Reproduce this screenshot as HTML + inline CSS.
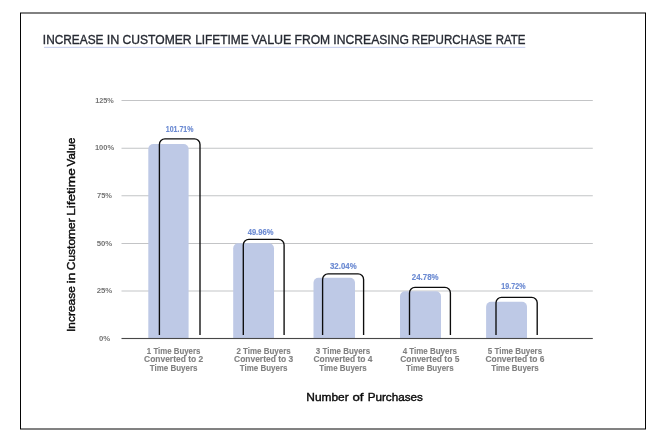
<!DOCTYPE html>
<html lang="en"><head><meta charset="utf-8"><title>Increase in Customer Lifetime Value</title>
<style>
html,body{margin:0;padding:0;background:#fff;}
body{width:666px;height:447px;overflow:hidden;position:relative;font-family:"Liberation Sans",sans-serif;}
svg{position:absolute;left:0;top:0;display:block;}
text{font-family:"Liberation Sans",sans-serif;}
.tick{font-size:7.8px;font-weight:700;fill:#747474;text-anchor:middle;}
.val{font-size:8.3px;font-weight:700;fill:#6b8ad2;stroke:#6b8ad2;stroke-width:0.15px;text-anchor:middle;}
.cat{font-size:8.2px;font-weight:700;fill:#808080;stroke:#808080;stroke-width:0.1px;text-anchor:middle;}
.axl{font-size:11.8px;font-weight:400;fill:#0a0a0a;stroke:#0a0a0a;stroke-width:0.4px;}
.title{font-size:12.3px;fill:#262a33;stroke:#262a33;stroke-width:0.33px;}
</style></head><body>
<svg width="666" height="447" viewBox="0 0 666 447">
<rect x="0" y="0" width="666" height="447" fill="#fff"/>
<rect x="20.5" y="13" width="625" height="416" fill="none" stroke="#050505" stroke-width="1"/>
<text class="title" y="44"><tspan x="42.86" textLength="60.69" lengthAdjust="spacingAndGlyphs">INCREASE</tspan> <tspan x="106.65" textLength="12.59" lengthAdjust="spacingAndGlyphs">IN</tspan> <tspan x="122.59" textLength="69.02" lengthAdjust="spacingAndGlyphs">CUSTOMER</tspan> <tspan x="195.19" textLength="53.52" lengthAdjust="spacingAndGlyphs">LIFETIME</tspan> <tspan x="251.48" textLength="39.9" lengthAdjust="spacingAndGlyphs">VALUE</tspan> <tspan x="294.52" textLength="35.6" lengthAdjust="spacingAndGlyphs">FROM</tspan> <tspan x="333.37" textLength="75.55" lengthAdjust="spacingAndGlyphs">INCREASING</tspan> <tspan x="411.81" textLength="80.25" lengthAdjust="spacingAndGlyphs">REPURCHASE</tspan> <tspan x="495.76" textLength="29.77" lengthAdjust="spacingAndGlyphs">RATE</tspan></text>
<rect x="44" y="46.85" width="481.3" height="0.9" fill="#bcc5ea"/>
<text class="tick" x="104.5" y="340.80" textLength="11.2" lengthAdjust="spacingAndGlyphs">0%</text>
<rect x="121.5" y="290.60" width="471.3" height="0.8" fill="#b4b6b8"/>
<text class="tick" x="104.5" y="293.20" textLength="15.6" lengthAdjust="spacingAndGlyphs">25%</text>
<rect x="121.5" y="243.00" width="471.3" height="0.8" fill="#b4b6b8"/>
<text class="tick" x="104.5" y="245.60" textLength="15.6" lengthAdjust="spacingAndGlyphs">50%</text>
<rect x="121.5" y="195.40" width="471.3" height="0.8" fill="#b4b6b8"/>
<text class="tick" x="104.5" y="198.00" textLength="15.0" lengthAdjust="spacingAndGlyphs">75%</text>
<rect x="121.5" y="147.80" width="471.3" height="0.8" fill="#b4b6b8"/>
<text class="tick" x="104.5" y="150.40" textLength="19.2" lengthAdjust="spacingAndGlyphs">100%</text>
<rect x="121.5" y="100.20" width="471.3" height="0.8" fill="#b4b6b8"/>
<text class="tick" x="104.5" y="102.80" textLength="18.6" lengthAdjust="spacingAndGlyphs">125%</text>
<path d="M148.3 338.5 V149.1 A5 5 0 0 1 153.3 144.1 H183.6 A5 5 0 0 1 188.6 149.1 V338.5 Z" fill="#bec9e6"/>
<path d="M233.2 338.5 V248.2 A5 5 0 0 1 238.2 243.2 H269.0 A5 5 0 0 1 274.0 248.2 V338.5 Z" fill="#bec9e6"/>
<path d="M313.5 338.5 V282.8 A5 5 0 0 1 318.5 277.8 H350.0 A5 5 0 0 1 355.0 282.8 V338.5 Z" fill="#bec9e6"/>
<path d="M400.0 338.5 V296.3 A5 5 0 0 1 405.0 291.3 H436.0 A5 5 0 0 1 441.0 296.3 V338.5 Z" fill="#bec9e6"/>
<path d="M486.1 338.5 V306.7 A5 5 0 0 1 491.1 301.7 H522.0 A5 5 0 0 1 527.0 306.7 V338.5 Z" fill="#bec9e6"/>
<rect x="121.5" y="337.95" width="471.3" height="1.1" fill="#484848"/>
<path d="M159.4 335.1 V144.4 A5.5 5.5 0 0 1 164.9 138.9 H194.5 A5.5 5.5 0 0 1 200.0 144.4 V335.1" fill="none" stroke="#0c0c0c" stroke-width="1.35"/>
<text class="val" x="179.6" y="132.4" textLength="27.6" lengthAdjust="spacingAndGlyphs">101.71%</text>
<text class="cat" x="173.6" y="354.3" textLength="53.5" lengthAdjust="spacingAndGlyphs">1 Time Buyers</text>
<text class="cat" x="173.6" y="362.4" textLength="59.1" lengthAdjust="spacingAndGlyphs">Converted to 2</text>
<text class="cat" x="173.6" y="371.0" textLength="47.6" lengthAdjust="spacingAndGlyphs">Time Buyers</text>
<path d="M243.3 335.1 V244.9 A5.5 5.5 0 0 1 248.8 239.4 H278.6 A5.5 5.5 0 0 1 284.1 244.9 V335.1" fill="none" stroke="#0c0c0c" stroke-width="1.35"/>
<text class="val" x="260.55" y="234.6" textLength="25.7" lengthAdjust="spacingAndGlyphs">49.96%</text>
<text class="cat" x="263.6" y="354.3" textLength="54.3" lengthAdjust="spacingAndGlyphs">2 Time Buyers</text>
<text class="cat" x="263.6" y="362.4" textLength="59.1" lengthAdjust="spacingAndGlyphs">Converted to 3</text>
<text class="cat" x="263.6" y="371.0" textLength="47.6" lengthAdjust="spacingAndGlyphs">Time Buyers</text>
<path d="M322.6 335.1 V279.4 A5.5 5.5 0 0 1 328.1 273.9 H358.1 A5.5 5.5 0 0 1 363.6 279.4 V335.1" fill="none" stroke="#0c0c0c" stroke-width="1.35"/>
<text class="val" x="343.3" y="269.0" textLength="26.6" lengthAdjust="spacingAndGlyphs">32.04%</text>
<text class="cat" x="343.0" y="354.3" textLength="54.3" lengthAdjust="spacingAndGlyphs">3 Time Buyers</text>
<text class="cat" x="343.0" y="362.4" textLength="59.1" lengthAdjust="spacingAndGlyphs">Converted to 4</text>
<text class="cat" x="343.0" y="371.0" textLength="47.6" lengthAdjust="spacingAndGlyphs">Time Buyers</text>
<path d="M409.5 335.1 V292.9 A5.5 5.5 0 0 1 415.0 287.4 H444.9 A5.5 5.5 0 0 1 450.4 292.9 V335.1" fill="none" stroke="#0c0c0c" stroke-width="1.35"/>
<text class="val" x="425.2" y="279.9" textLength="26.8" lengthAdjust="spacingAndGlyphs">24.78%</text>
<text class="cat" x="429.8" y="354.3" textLength="54.3" lengthAdjust="spacingAndGlyphs">4 Time Buyers</text>
<text class="cat" x="429.8" y="362.4" textLength="59.1" lengthAdjust="spacingAndGlyphs">Converted to 5</text>
<text class="cat" x="429.8" y="371.0" textLength="47.6" lengthAdjust="spacingAndGlyphs">Time Buyers</text>
<path d="M496.0 335.1 V302.8 A5.5 5.5 0 0 1 501.5 297.3 H531.7 A5.5 5.5 0 0 1 537.2 302.8 V335.1" fill="none" stroke="#0c0c0c" stroke-width="1.35"/>
<text class="val" x="513.4" y="289.2" textLength="24.2" lengthAdjust="spacingAndGlyphs">19.72%</text>
<text class="cat" x="515.0" y="354.3" textLength="54.3" lengthAdjust="spacingAndGlyphs">5 Time Buyers</text>
<text class="cat" x="515.0" y="362.4" textLength="59.1" lengthAdjust="spacingAndGlyphs">Converted to 6</text>
<text class="cat" x="515.0" y="371.0" textLength="47.6" lengthAdjust="spacingAndGlyphs">Time Buyers</text>
<text class="axl" y="401.35"><tspan x="306.27" textLength="42.44" lengthAdjust="spacingAndGlyphs">Number</tspan> <tspan x="352.4" textLength="11.01" lengthAdjust="spacingAndGlyphs">of</tspan> <tspan x="367.67" textLength="55.31" lengthAdjust="spacingAndGlyphs">Purchases</tspan></text>
<text class="axl" transform="translate(75.2 331.2) rotate(-90)" y="0"><tspan x="-0.76" textLength="45.75" lengthAdjust="spacingAndGlyphs">Increase</tspan> <tspan x="47.6" textLength="11.25" lengthAdjust="spacingAndGlyphs">in</tspan> <tspan x="60.95" textLength="52.05" lengthAdjust="spacingAndGlyphs">Customer</tspan> <tspan x="115.44" textLength="47.47" lengthAdjust="spacingAndGlyphs">Lifetime</tspan> <tspan x="164.81" textLength="28.73" lengthAdjust="spacingAndGlyphs">Value</tspan></text>
</svg>
</body></html>
